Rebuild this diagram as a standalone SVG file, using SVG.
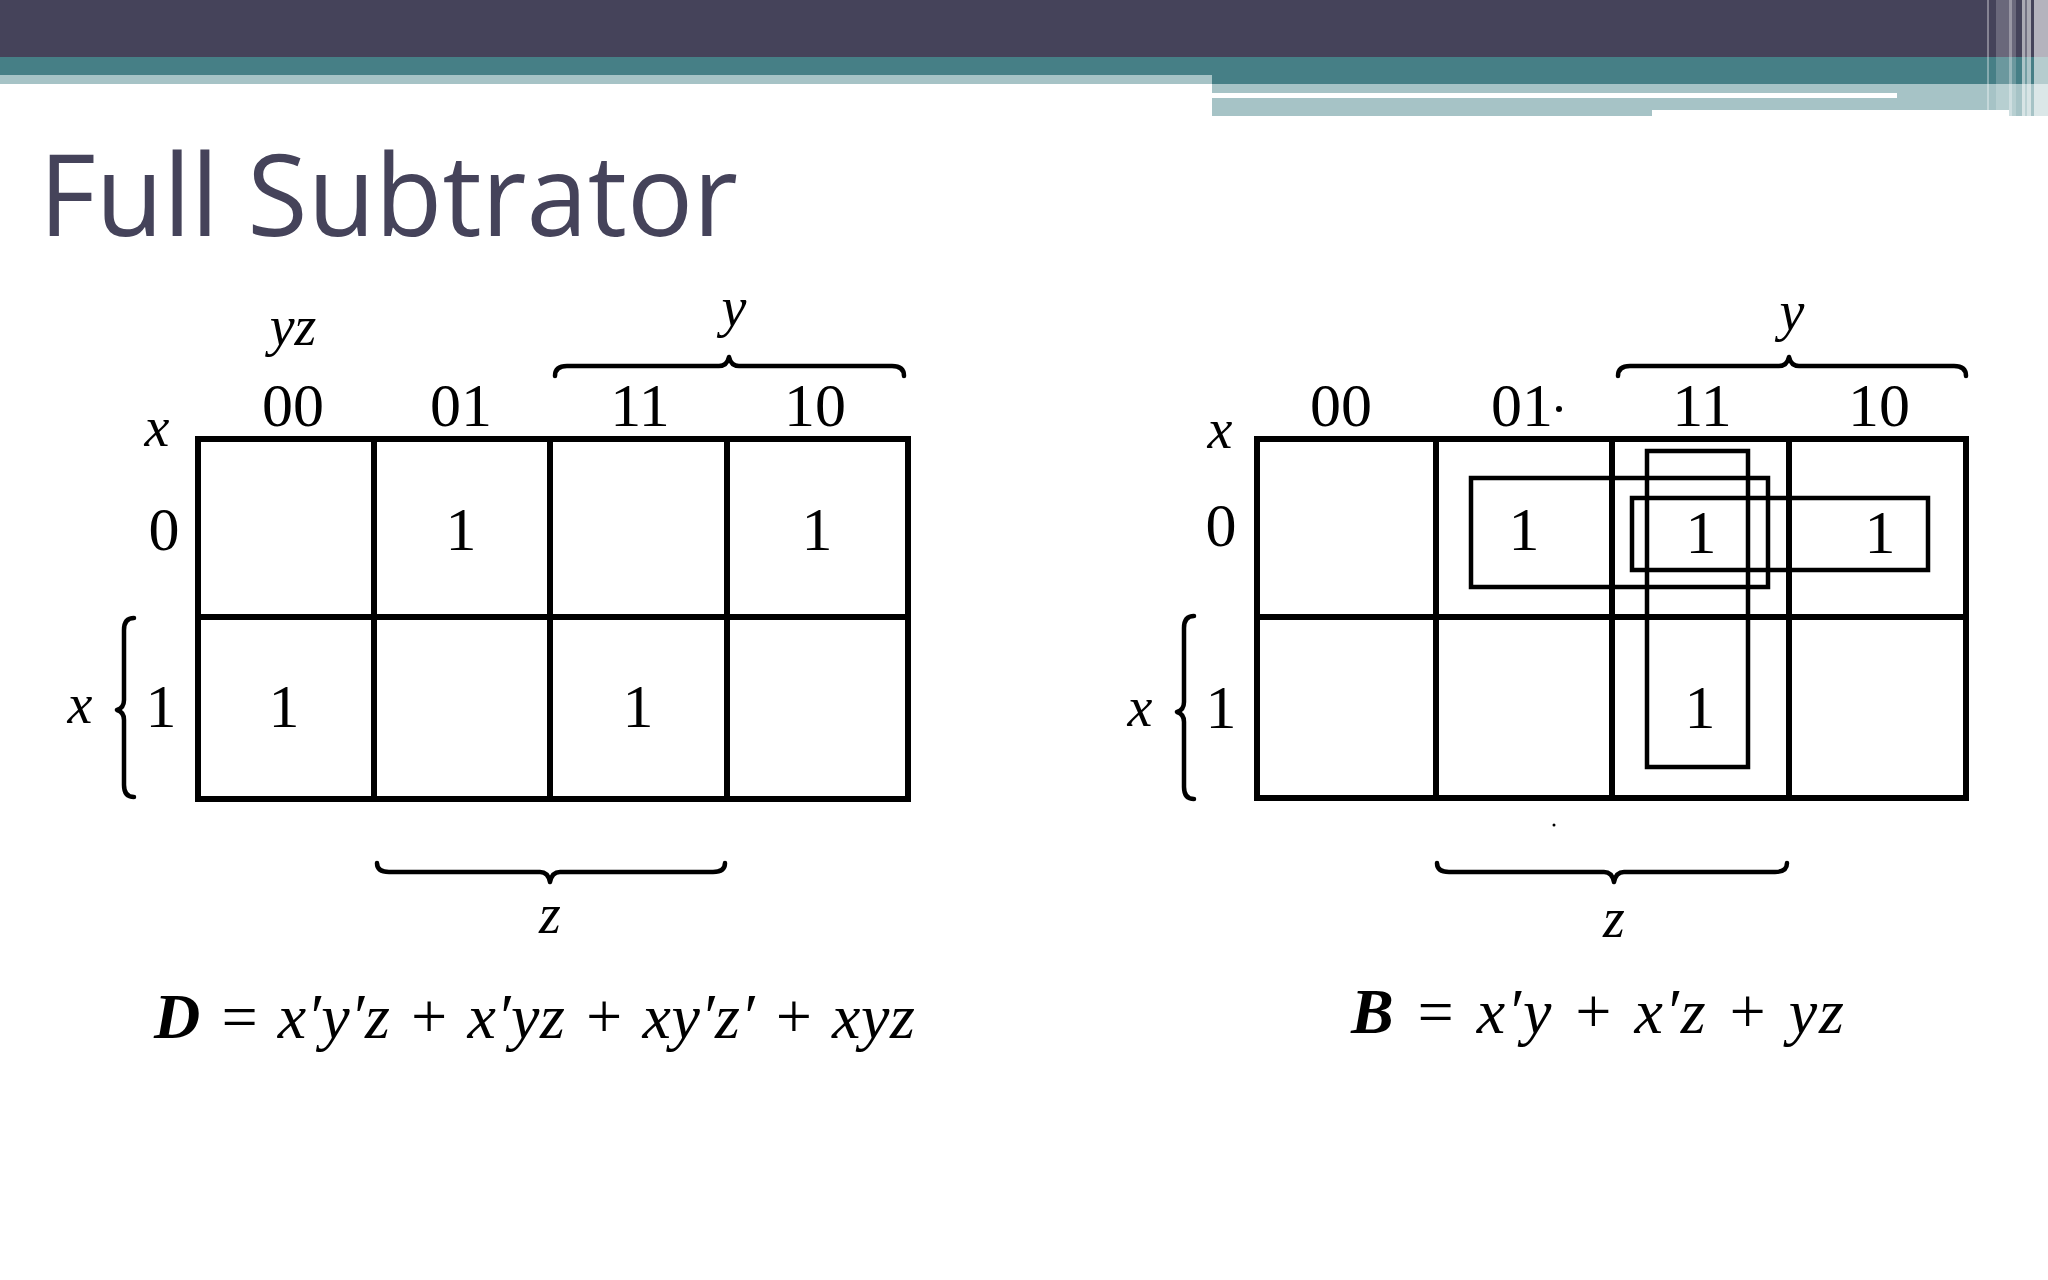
<svg xmlns="http://www.w3.org/2000/svg" width="2048" height="1280" viewBox="0 0 2048 1280">
<defs>
<style>
.grid{fill:none;stroke:#000;stroke-width:6;stroke-linecap:square}
.grp{fill:none;stroke:#000;stroke-width:4.5}
.brace{fill:none;stroke:#000;stroke-width:4.5;stroke-linecap:round;stroke-linejoin:round}
.num{font-family:"Liberation Serif","Times New Roman",serif;font-size:62px;fill:#000;text-anchor:middle}
.var{font-family:"Liberation Serif","Times New Roman",serif;font-style:italic;font-size:56px;fill:#000;text-anchor:middle}
.eq{font-family:"Liberation Serif","Times New Roman",serif;font-style:italic;font-size:64px;fill:#000}
.title{font-family:"Open Sans","Noto Sans",sans-serif;font-size:114px;fill:#45435a}
</style>
</defs>
<rect x="0" y="0" width="2048" height="1280" fill="#fff"/>
<g id="header">
<rect x="0" y="0" width="2048" height="57" fill="#45435a"/>
<rect x="0" y="57" width="2048" height="27" fill="#467f86"/>
<rect x="0" y="75" width="1212" height="9" fill="#a6c3c6"/>
<rect x="1212" y="84" width="836" height="32" fill="#a6c3c6"/>
<rect x="1212" y="93" width="685" height="5" fill="#fff"/>
<rect x="1652" y="110" width="357" height="6" fill="#fff"/>
<rect x="1987" y="0" width="2" height="116" fill="#fff" opacity="0.35"/>
<rect x="1996" y="0" width="13" height="116" fill="#fff" opacity="0.2"/>
<rect x="2009" y="0" width="3" height="116" fill="#fff" opacity="0.45"/>
<rect x="2012" y="0" width="4" height="116" fill="#fff" opacity="0.2"/>
<rect x="2022" y="0" width="3" height="116" fill="#fff" opacity="0.55"/>
<rect x="2025" y="0" width="2" height="116" fill="#fff" opacity="0.25"/>
<rect x="2027" y="0" width="4" height="116" fill="#fff" opacity="0.55"/>
<rect x="2034" y="0" width="14" height="116" fill="#fff" opacity="0.6"/>
</g>
<text id="title" class="title" x="39" y="236" textLength="699" lengthAdjust="spacingAndGlyphs">Full Subtrator</text>

<g id="kmap-D">
<rect class="grid" x="198" y="439" width="710" height="360"/>
<line class="grid" x1="374" y1="439" x2="374" y2="799"/>
<line class="grid" x1="550" y1="439" x2="550" y2="799"/>
<line class="grid" x1="727" y1="439" x2="727" y2="799"/>
<line class="grid" x1="198" y1="617" x2="908" y2="617"/>
<text class="var" x="293" y="345" font-size="52">yz</text>
<text class="var" x="734" y="326">y</text>
<text class="num" x="293" y="426">00</text>
<text class="num" x="461" y="426">01</text>
<text class="num" x="640" y="426">11</text>
<text class="num" x="815" y="426">10</text>
<text class="var" x="157" y="446">x</text>
<text class="num" x="164" y="550">0</text>
<text class="num" x="161" y="727">1</text>
<text class="var" x="80" y="723">x</text>
<text class="num" x="461" y="550">1</text>
<text class="num" x="817" y="550">1</text>
<text class="num" x="284" y="727">1</text>
<text class="num" x="638" y="727">1</text>
<text class="var" x="550" y="933">z</text>
</g>

<g id="kmap-B">
<rect class="grid" x="1257" y="439" width="709" height="359"/>
<line class="grid" x1="1436" y1="439" x2="1436" y2="798"/>
<line class="grid" x1="1612" y1="439" x2="1612" y2="798"/>
<line class="grid" x1="1789" y1="439" x2="1789" y2="798"/>
<line class="grid" x1="1257" y1="617" x2="1966" y2="617"/>
<rect class="grp" x="1647" y="451" width="101" height="316"/>
<rect class="grp" x="1471" y="478" width="297" height="109"/>
<rect class="grp" x="1632" y="498" width="296" height="72"/>
<text class="var" x="1792" y="330">y</text>
<text class="num" x="1341" y="426">00</text>
<text class="num" x="1522" y="426">01</text>
<circle cx="1559" cy="409" r="3" fill="#000"/>
<text class="num" x="1702" y="426">11</text>
<text class="num" x="1879" y="426">10</text>
<text class="var" x="1220" y="448">x</text>
<text class="num" x="1221" y="546">0</text>
<text class="num" x="1221" y="728">1</text>
<text class="var" x="1140" y="726">x</text>
<text class="num" x="1524" y="550">1</text>
<text class="num" x="1701" y="553">1</text>
<text class="num" x="1880" y="553">1</text>
<text class="num" x="1700" y="728">1</text>
<text class="var" x="1614" y="937">z</text>
<circle cx="1554" cy="825" r="1.5" fill="#000"/>
</g>

<g id="connectors">
<path class="brace" d="M555,376 Q555,366 567,366 L719,366 Q727,366 729,357 Q731,366 739,366 L892,366 Q904,366 904,376"/>
<path class="brace" d="M377,863 Q377,872 389,872 L540,872 Q548,872 550,882 Q552,872 560,872 L713,872 Q725,872 725,863"/>
<path class="brace" d="M134,618 Q124,618 124,630 L124,700 Q124,708 117,710 Q124,712 124,720 L124,785 Q124,797 134,797"/>
<path class="brace" d="M1618,376 Q1618,366 1630,366 L1779,366 Q1787,366 1789,357 Q1791,366 1799,366 L1954,366 Q1966,366 1966,376"/>
<path class="brace" d="M1437,863 Q1437,872 1449,872 L1604,872 Q1612,872 1614,882 Q1616,872 1624,872 L1775,872 Q1787,872 1787,863"/>
<path class="brace" d="M1194,616 Q1184,616 1184,628 L1184,702 Q1184,710 1177,712 Q1184,714 1184,722 L1184,787 Q1184,799 1194,799"/>
</g>

<text id="eq-D" class="eq" x="154" y="1038" textLength="761" lengthAdjust="spacing"><tspan font-weight="bold">D</tspan> = x′y′z + x′yz + xy′z′ + xyz</text>
<text id="eq-B" class="eq" x="1351" y="1033" textLength="493" lengthAdjust="spacing"><tspan font-weight="bold">B</tspan> = x′y + x′z + yz</text>
</svg>
